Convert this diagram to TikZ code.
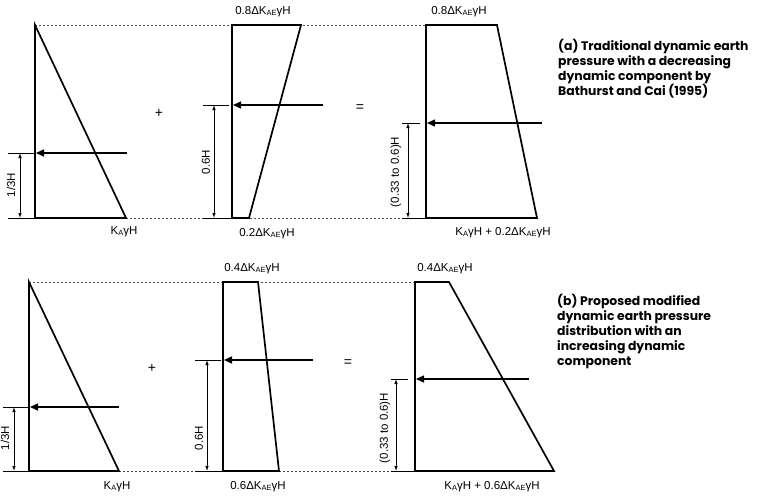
\documentclass[tikz,border=0pt]{standalone}
\usepackage{fontspec}
\setmainfont{Liberation Sans}
\newfontfamily\capfont{Poppins}
\usetikzlibrary{arrows.meta}
\newcommand{\ksub}[1]{K\raisebox{-1pt}{\fontsize{7.5}{8}\selectfont #1}}
\begin{document}
\begin{tikzpicture}[x=1pt,y=-1pt,
  box/.style={line width=1.7pt, line join=miter},
  force/.style={line width=1.3pt, -{Triangle[length=8pt,width=7pt]}},
  dim/.style={line width=0.8pt, {Latex[length=5pt,width=3.5pt]}-{Latex[length=5pt,width=3.5pt]}},
  tickline/.style={line width=0.9pt},
  guide/.style={line width=0.7pt, black!70, dash pattern=on 2pt off 2pt},
  lbl/.style={font=\fontsize{11.5}{13}\selectfont, inner sep=0pt},
  rlbl/.style={lbl, rotate=90},
  sign/.style={font=\fontsize{14}{15}\selectfont, inner sep=0pt},
  captext/.style={font=\capfont\bfseries\fontsize{12.4}{15}\selectfont, align=left, anchor=north west, inner sep=0pt}
]
\useasboundingbox (0,0) rectangle (768,499);

% ===== TOP PANEL =====
\coordinate (g1a) at (35,25);  \coordinate (g1b) at (426,25);
\coordinate (g1c) at (126,218); \coordinate (g1d) at (426,218);
\draw[guide] (g1a) -- (g1b);
\draw[guide] (g1c) -- (g1d);

\coordinate (ta1) at (35,25); \coordinate (ta2) at (35,218); \coordinate (ta3) at (126,218);
\draw[box] (ta1) -- (ta2) -- (ta3) -- cycle;
\coordinate (fa1s) at (127,153); \coordinate (fa1e) at (36,153);
\draw[force] (fa1s) -- (fa1e);
\coordinate (da1a) at (8,153); \coordinate (da1b) at (34,153);
\coordinate (da1c) at (8,218); \coordinate (da1d) at (34,218);
\draw[tickline] (da1a) -- (da1b);
\draw[tickline] (da1c) -- (da1d);
\coordinate (va1a) at (20,153); \coordinate (va1b) at (20,218);
\draw[dim] (va1a) -- (va1b);
\node[rlbl] (la1) at (11,185) {1/3H};
\node[lbl] (la1b) at (124,232) {\ksub{A}γH};

\node[sign] (plusa) at (159,113) {+};

\coordinate (ma1) at (232,25); \coordinate (ma2) at (301,25);
\coordinate (ma3) at (249,218); \coordinate (ma4) at (232,218);
\draw[box] (ma1) -- (ma2) -- (ma3) -- (ma4) -- cycle;
\coordinate (fa2s) at (323,105); \coordinate (fa2e) at (233,105);
\draw[force] (fa2s) -- (fa2e);
\coordinate (da2a) at (203,105); \coordinate (da2b) at (229,105);
\coordinate (da2c) at (203,218); \coordinate (da2d) at (232,218);
\draw[tickline] (da2a) -- (da2b);
\draw[tickline] (da2c) -- (da2d);
\coordinate (va2a) at (214,105); \coordinate (va2b) at (214,218);
\draw[dim] (va2a) -- (va2b);
\node[rlbl] (la2) at (206,162) {0.6H};
\node[lbl] (la2t) at (263,12) {0.8Δ\ksub{AE}γH};
\node[lbl] (la2b) at (267,234) {0.2Δ\ksub{AE}γH};

\node[sign] (eqa) at (360,108) {=};

\coordinate (ra1) at (426,25); \coordinate (ra2) at (497,25);
\coordinate (ra3) at (537,218); \coordinate (ra4) at (426,218);
\draw[box] (ra1) -- (ra2) -- (ra3) -- (ra4) -- cycle;
\coordinate (fa3s) at (542,123); \coordinate (fa3e) at (427,123);
\draw[force] (fa3s) -- (fa3e);
\coordinate (da3a) at (402,123); \coordinate (da3b) at (420,123);
\coordinate (da3c) at (402,218); \coordinate (da3d) at (426,218);
\draw[tickline] (da3a) -- (da3b);
\draw[tickline] (da3c) -- (da3d);
\coordinate (va3a) at (408,123); \coordinate (va3b) at (408,218);
\draw[dim] (va3a) -- (va3b);
\node[rlbl] (la3) at (396,172) {(0.33 to 0.6)H};
\node[lbl] (la3t) at (459,12) {0.8Δ\ksub{AE}γH};
\node[lbl] (la3b) at (503,233) {\ksub{A}γH + 0.2Δ\ksub{AE}γH};

\node[captext] (capa) at (558,39) {(a) Traditional dynamic earth\\pressure with a decreasing\\dynamic component by\\Bathurst and Cai (1995)};

% ===== BOTTOM PANEL =====
\coordinate (g2a) at (29,282);  \coordinate (g2b) at (415,282);
\coordinate (g2c) at (119,471); \coordinate (g2d) at (415,471);
\draw[guide] (g2a) -- (g2b);
\draw[guide] (g2c) -- (g2d);

\coordinate (tb1) at (29,282); \coordinate (tb2) at (29,471); \coordinate (tb3) at (119,471);
\draw[box] (tb1) -- (tb2) -- (tb3) -- cycle;
\coordinate (fb1s) at (119,407); \coordinate (fb1e) at (30,407);
\draw[force] (fb1s) -- (fb1e);
\coordinate (db1a) at (3,407); \coordinate (db1b) at (28,407);
\coordinate (db1c) at (3,471); \coordinate (db1d) at (28,471);
\draw[tickline] (db1a) -- (db1b);
\draw[tickline] (db1c) -- (db1d);
\coordinate (vb1a) at (14,407); \coordinate (vb1b) at (14,471);
\draw[dim] (vb1a) -- (vb1b);
\node[rlbl] (lb1) at (5,438) {1/3H};
\node[lbl] (lb1b) at (117,487) {\ksub{A}γH};

\node[sign] (plusb) at (152,368) {+};

\coordinate (mb1) at (223,282); \coordinate (mb2) at (258,282);
\coordinate (mb3) at (279,471); \coordinate (mb4) at (223,471);
\draw[box] (mb1) -- (mb2) -- (mb3) -- (mb4) -- cycle;
\coordinate (fb2s) at (313,360); \coordinate (fb2e) at (224,360);
\draw[force] (fb2s) -- (fb2e);
\coordinate (db2a) at (195,360); \coordinate (db2b) at (221,360);
\coordinate (db2c) at (195,471); \coordinate (db2d) at (223,471);
\draw[tickline] (db2a) -- (db2b);
\draw[tickline] (db2c) -- (db2d);
\coordinate (vb2a) at (207,360); \coordinate (vb2b) at (207,471);
\draw[dim] (vb2a) -- (vb2b);
\node[rlbl] (lb2) at (199,438) {0.6H};
\node[lbl] (lb2t) at (252,269) {0.4Δ\ksub{AE}γH};
\node[lbl] (lb2b) at (258,487) {0.6Δ\ksub{AE}γH};

\node[sign] (eqb) at (348,363) {=};

\coordinate (rb1) at (415,282); \coordinate (rb2) at (449,282);
\coordinate (rb3) at (554,471); \coordinate (rb4) at (415,471);
\draw[box] (rb1) -- (rb2) -- (rb3) -- (rb4) -- cycle;
\coordinate (fb3s) at (529,379); \coordinate (fb3e) at (416,379);
\draw[force] (fb3s) -- (fb3e);
\coordinate (db3a) at (391,379); \coordinate (db3b) at (408,379);
\coordinate (db3c) at (391,471); \coordinate (db3d) at (415,471);
\draw[tickline] (db3a) -- (db3b);
\draw[tickline] (db3c) -- (db3d);
\coordinate (vb3a) at (396,379); \coordinate (vb3b) at (396,471);
\draw[dim] (vb3a) -- (vb3b);
\node[rlbl] (lb3) at (385,428) {(0.33 to 0.6)H};
\node[lbl] (lb3t) at (445,269) {0.4Δ\ksub{AE}γH};
\node[lbl] (lb3b) at (492,487) {\ksub{A}γH + 0.6Δ\ksub{AE}γH};

\node[captext] (capb) at (557,294) {(b) Proposed modified\\dynamic earth pressure\\distribution with an\\increasing dynamic\\component};
\end{tikzpicture}
\end{document}
